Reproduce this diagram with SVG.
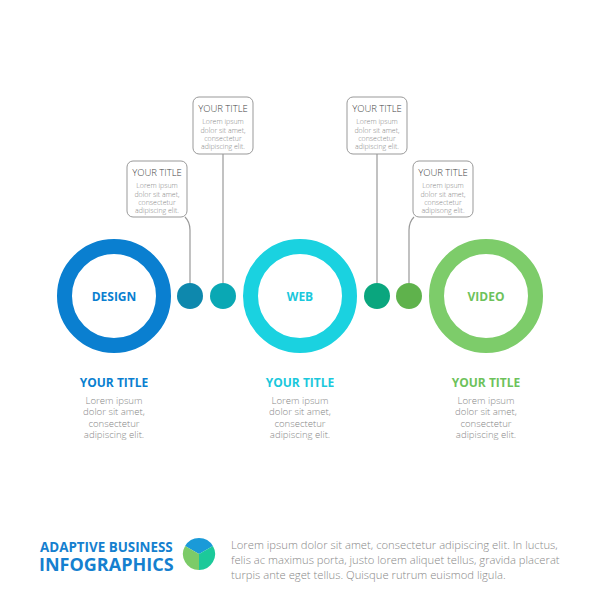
<svg xmlns="http://www.w3.org/2000/svg" width="600" height="600" viewBox="0 0 600 600">
<style>
.box{fill:#fff;stroke:#999;stroke-width:1}
.conn{fill:none;stroke:#999;stroke-width:1.2}
.bt{font-family:"Open Sans","Liberation Sans",sans-serif;font-size:9.5px;font-weight:300;fill:#444;text-anchor:middle}
.bl{font-family:"Open Sans","Liberation Sans",sans-serif;font-size:7px;font-weight:300;fill:#888;text-anchor:middle}
.ring{fill:none;stroke-width:15}
.rl{font-family:"Open Sans","Liberation Sans",sans-serif;font-size:12px;font-weight:bold;text-anchor:middle}
.ht{font-family:"Open Sans","Liberation Sans",sans-serif;font-size:12px;font-weight:bold;text-anchor:middle}
.hl{font-family:"Open Sans","Liberation Sans",sans-serif;font-size:9.6px;font-weight:300;fill:#888;text-anchor:middle}
.para{font-family:"Open Sans","Liberation Sans",sans-serif;font-size:11.25px;font-weight:300;fill:#888}
.ab{font-family:"Open Sans","Liberation Sans",sans-serif;font-weight:bold;fill:#1580cf}
</style>
<rect width="600" height="600" fill="#fff"/>
<g id="connectors">
<path class="conn" d="M185,217 Q190,222 190,230 L190,283"/>
<path class="conn" d="M223,154 L223,283"/>
<path class="conn" d="M377,154 L377,283"/>
<path class="conn" d="M414,217 Q409,222 409,230 L409,283"/>
</g>
<g id="box1">
<rect class="box" x="127" y="161" width="60" height="56" rx="6"/>
<text class="bt" x="157" y="176">YOUR TITLE</text>
<text class="bl" x="157" y="188">Lorem ipsum</text>
<text class="bl" x="157" y="196.5">dolor sit amet,</text>
<text class="bl" x="157" y="205">consectetur</text>
<text class="bl" x="157" y="213">adipiscing elit.</text>
</g>
<g id="box2">
<rect class="box" x="193" y="97" width="60" height="57" rx="6"/>
<text class="bt" x="223" y="112">YOUR TITLE</text>
<text class="bl" x="223" y="124">Lorem ipsum</text>
<text class="bl" x="223" y="132.5">dolor sit amet,</text>
<text class="bl" x="223" y="141">consectetur</text>
<text class="bl" x="223" y="149">adipiscing elit.</text>
</g>
<g id="box3">
<rect class="box" x="347" y="97" width="60" height="57" rx="6"/>
<text class="bt" x="377" y="112">YOUR TITLE</text>
<text class="bl" x="377" y="124">Lorem ipsum</text>
<text class="bl" x="377" y="132.5">dolor sit amet,</text>
<text class="bl" x="377" y="141">consectetur</text>
<text class="bl" x="377" y="149">adipiscing elit.</text>
</g>
<g id="box4">
<rect class="box" x="413" y="161" width="60" height="56" rx="6"/>
<text class="bt" x="443" y="176">YOUR TITLE</text>
<text class="bl" x="443" y="188">Lorem ipsum</text>
<text class="bl" x="443" y="196.5">dolor sit amet,</text>
<text class="bl" x="443" y="205">consectetur</text>
<text class="bl" x="443" y="213">adipisong elit.</text>
</g>
<g id="design">
<circle class="ring" cx="114" cy="296" r="49.5" stroke="#0a7fd0"/>
<text class="rl" x="114" y="300.5" fill="#0a7fd0">DESIGN</text>
</g>
<g id="dot1"><circle cx="190" cy="296" r="13" fill="#0e88ad"/></g>
<g id="dot2"><circle cx="223" cy="296" r="13" fill="#0aa8b4"/></g>
<g id="web">
<circle class="ring" cx="300" cy="296" r="49.5" stroke="#1ad2e0"/>
<text class="rl" x="300" y="300.5" fill="#1ac8dc">WEB</text>
</g>
<g id="dot3"><circle cx="377" cy="296" r="13" fill="#0aa67e"/></g>
<g id="dot4"><circle cx="409" cy="296" r="13" fill="#5fb24c"/></g>
<g id="video">
<circle class="ring" cx="486" cy="296" r="49.5" stroke="#7dcc6a"/>
<text class="rl" x="486" y="300.5" fill="#6dc25b">VIDEO</text>
</g>
<g id="col1">
<text class="ht" x="114" y="387" fill="#0a7fd0">YOUR TITLE</text>
<text class="hl" x="114" y="404">Lorem ipsum</text>
<text class="hl" x="114" y="415.3">dolor sit amet,</text>
<text class="hl" x="114" y="426.6">consectetur</text>
<text class="hl" x="114" y="438">adipiscing elit.</text>
</g>
<g id="col2">
<text class="ht" x="300" y="387" fill="#1ac8dc">YOUR TITLE</text>
<text class="hl" x="300" y="404">Lorem ipsum</text>
<text class="hl" x="300" y="415.3">dolor sit amet,</text>
<text class="hl" x="300" y="426.6">consectetur</text>
<text class="hl" x="300" y="438">adipiscing elit.</text>
</g>
<g id="col3">
<text class="ht" x="486" y="387" fill="#6dc25b">YOUR TITLE</text>
<text class="hl" x="486" y="404">Lorem ipsum</text>
<text class="hl" x="486" y="415.3">dolor sit amet,</text>
<text class="hl" x="486" y="426.6">consectetur</text>
<text class="hl" x="486" y="438">adipiscing elit.</text>
</g>
<g id="footer">
<text class="ab" x="40" y="552" font-size="13.4">ADAPTIVE BUSINESS</text>
<text class="ab" x="39" y="571" font-size="18">INFOGRAPHICS</text>
<g id="pie">
<path d="M199,554 L185.1,546 A16,16 0 0 1 212.9,546 Z" fill="#1a9ad8"/>
<path d="M199,554 L199,570 A16,16 0 0 1 185.1,546 Z" fill="#7ccb68"/>
<path d="M199,554 L212.9,546 A16,16 0 0 1 199,570 Z" fill="#1cc99a"/>
</g>
<text class="para" x="231" y="549">Lorem ipsum dolor sit amet, consectetur adipiscing elit. In luctus,</text>
<text class="para" x="231" y="564">felis ac maximus porta, justo lorem aliquet tellus, gravida placerat</text>
<text class="para" x="231" y="579">turpis ante eget tellus. Quisque rutrum euismod ligula.</text>
</g>
</svg>
